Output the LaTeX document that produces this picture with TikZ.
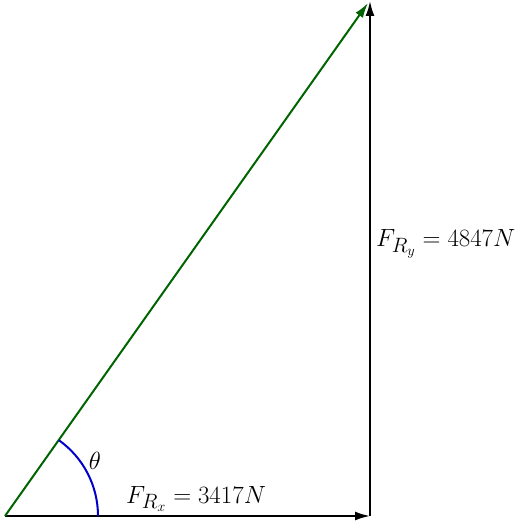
\documentclass[tikz,border=0pt]{standalone}
\usetikzlibrary{arrows.meta}
\definecolor{vgreen}{RGB}{0,100,0}
\definecolor{vblue}{RGB}{0,0,200}
\begin{document}
\begin{tikzpicture}[x=1pt,y=1pt,
  vec/.style={line width=2pt,-{Latex[length=15pt,width=9pt]}},
  lbl/.style={inner sep=0pt,font=\fontsize{29}{34}\selectfont}]
\useasboundingbox (0,0) rectangle (530,520);
\coordinate (O) at (5,4);
\coordinate (A) at (370,4);
\coordinate (B) at (370,519);
\coordinate (G) at (368,517);
\draw[vec] (O) -- (A);
\draw[vec] (A) -- (B);
\draw[vec,vgreen] (O) -- (G);
\draw[vblue,line width=2pt] (98,4) arc[start angle=0,end angle=54.6,radius=93];
\node[lbl] (th) at (95,59) {$\theta$};
\node[lbl] (fx) at (196,21) {$F_{R_x}=3417N$};
\node[lbl,anchor=west] (fy) at (376,276) {$F_{R_y}=4847N$};
\end{tikzpicture}
\end{document}
